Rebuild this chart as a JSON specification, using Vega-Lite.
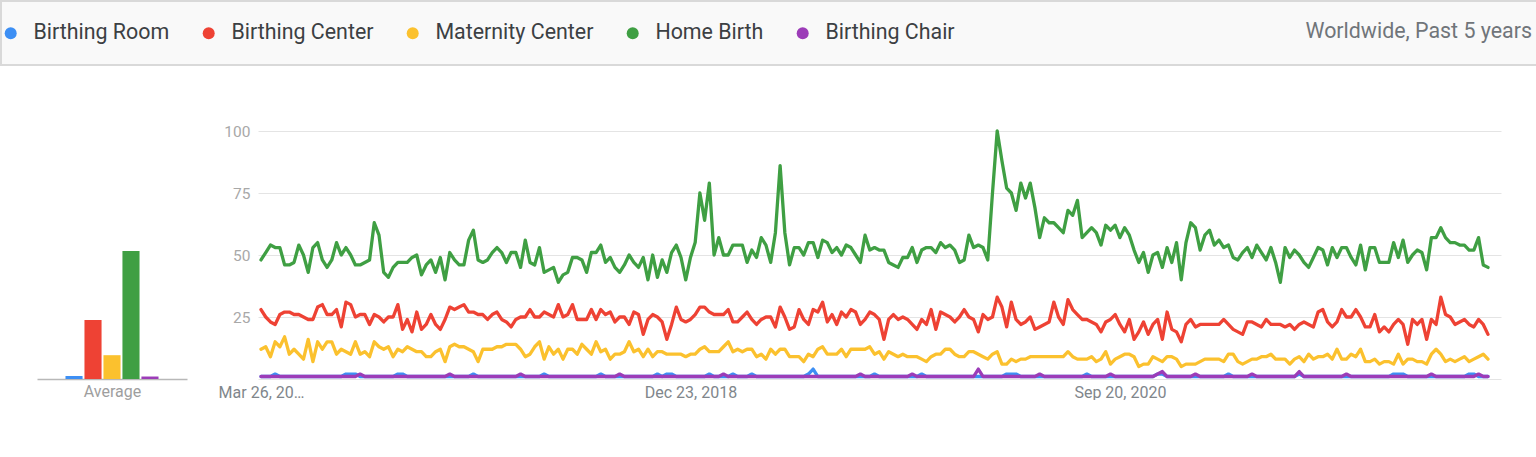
{
  "$schema": "https://vega.github.io/schema/vega-lite/v6.json",
  "padding": 0,
  "background": "white",
  "config": {
    "font": "Roboto",
    "view": {"stroke": null},
    "legend": {
      "orient": "none", "legendX": -37, "legendY": 21, "direction": "horizontal",
      "labelFont": "Roboto", "labelFontSize": 21.4, "labelColor": "#3c4043",
      "labelOffset": 12, "columnPadding": 28, "symbolType": "circle", "symbolSize": 144,
      "padding": 0, "labelLimit": 400
    }
  },
  "datasets": {
    "avg": [
      {"term": "Birthing Room", "avg": 1.2},
      {"term": "Birthing Center", "avg": 23.8},
      {"term": "Maternity Center", "avg": 9.6},
      {"term": "Home Birth", "avg": 51.6},
      {"term": "Birthing Chair", "avg": 1.0}
    ],
    "weeks": [
      {"d":"2017-03-26","r":1,"c":28,"m":12,"h":48,"p":1},
      {"d":"2017-04-02","r":1,"c":25,"m":13,"h":51,"p":1},
      {"d":"2017-04-09","r":1,"c":23,"m":9,"h":54,"p":1},
      {"d":"2017-04-16","r":2,"c":22,"m":15,"h":53,"p":1},
      {"d":"2017-04-23","r":1,"c":26,"m":13,"h":53,"p":1},
      {"d":"2017-04-30","r":1,"c":27,"m":17,"h":46,"p":1},
      {"d":"2017-05-07","r":1,"c":27,"m":10,"h":46,"p":1},
      {"d":"2017-05-14","r":1,"c":26,"m":12,"h":47,"p":1},
      {"d":"2017-05-21","r":1,"c":26,"m":10,"h":54,"p":1},
      {"d":"2017-05-28","r":1,"c":25,"m":8,"h":50,"p":1},
      {"d":"2017-06-04","r":1,"c":24,"m":16,"h":43,"p":1},
      {"d":"2017-06-11","r":1,"c":24,"m":7,"h":53,"p":1},
      {"d":"2017-06-18","r":1,"c":29,"m":15,"h":55,"p":1},
      {"d":"2017-06-25","r":1,"c":30,"m":12,"h":48,"p":1},
      {"d":"2017-07-02","r":1,"c":26,"m":15,"h":45,"p":1},
      {"d":"2017-07-09","r":1,"c":26,"m":15,"h":48,"p":1},
      {"d":"2017-07-16","r":1,"c":28,"m":10,"h":55,"p":1},
      {"d":"2017-07-23","r":1,"c":21,"m":12,"h":50,"p":1},
      {"d":"2017-07-30","r":2,"c":31,"m":11,"h":53,"p":1},
      {"d":"2017-08-06","r":2,"c":30,"m":10,"h":50,"p":1},
      {"d":"2017-08-13","r":2,"c":25,"m":15,"h":46,"p":1},
      {"d":"2017-08-20","r":1,"c":26,"m":10,"h":46,"p":2},
      {"d":"2017-08-27","r":1,"c":26,"m":11,"h":47,"p":1},
      {"d":"2017-09-03","r":1,"c":22,"m":9,"h":48,"p":1},
      {"d":"2017-09-10","r":1,"c":26,"m":15,"h":63,"p":1},
      {"d":"2017-09-17","r":1,"c":25,"m":13,"h":58,"p":1},
      {"d":"2017-09-24","r":1,"c":23,"m":12,"h":43,"p":1},
      {"d":"2017-10-01","r":1,"c":25,"m":13,"h":41,"p":1},
      {"d":"2017-10-08","r":1,"c":25,"m":9,"h":45,"p":1},
      {"d":"2017-10-15","r":2,"c":30,"m":12,"h":47,"p":1},
      {"d":"2017-10-22","r":2,"c":20,"m":11,"h":47,"p":1},
      {"d":"2017-10-29","r":1,"c":24,"m":13,"h":47,"p":1},
      {"d":"2017-11-05","r":1,"c":19,"m":12,"h":49,"p":1},
      {"d":"2017-11-12","r":1,"c":27,"m":11,"h":50,"p":1},
      {"d":"2017-11-19","r":1,"c":20,"m":11,"h":42,"p":1},
      {"d":"2017-11-26","r":1,"c":22,"m":9,"h":46,"p":1},
      {"d":"2017-12-03","r":1,"c":26,"m":9,"h":48,"p":1},
      {"d":"2017-12-10","r":1,"c":22,"m":11,"h":43,"p":1},
      {"d":"2017-12-17","r":1,"c":20,"m":12,"h":49,"p":1},
      {"d":"2017-12-24","r":1,"c":24,"m":7,"h":40,"p":1},
      {"d":"2017-12-31","r":1,"c":29,"m":13,"h":51,"p":2},
      {"d":"2018-01-07","r":1,"c":28,"m":14,"h":48,"p":1},
      {"d":"2018-01-14","r":1,"c":29,"m":13,"h":46,"p":1},
      {"d":"2018-01-21","r":1,"c":30,"m":13,"h":46,"p":1},
      {"d":"2018-01-28","r":1,"c":27,"m":12,"h":56,"p":1},
      {"d":"2018-02-04","r":2,"c":27,"m":11,"h":60,"p":1},
      {"d":"2018-02-11","r":1,"c":26,"m":7,"h":48,"p":1},
      {"d":"2018-02-18","r":1,"c":26,"m":12,"h":47,"p":1},
      {"d":"2018-02-25","r":1,"c":24,"m":12,"h":48,"p":1},
      {"d":"2018-03-04","r":1,"c":26,"m":12,"h":51,"p":1},
      {"d":"2018-03-11","r":1,"c":27,"m":13,"h":53,"p":1},
      {"d":"2018-03-18","r":1,"c":24,"m":13,"h":51,"p":1},
      {"d":"2018-03-25","r":1,"c":23,"m":14,"h":47,"p":1},
      {"d":"2018-04-01","r":1,"c":21,"m":14,"h":51,"p":1},
      {"d":"2018-04-08","r":1,"c":24,"m":14,"h":51,"p":1},
      {"d":"2018-04-15","r":1,"c":25,"m":12,"h":45,"p":2},
      {"d":"2018-04-22","r":1,"c":25,"m":9,"h":56,"p":1},
      {"d":"2018-04-29","r":1,"c":28,"m":10,"h":47,"p":1},
      {"d":"2018-05-06","r":1,"c":25,"m":13,"h":46,"p":1},
      {"d":"2018-05-13","r":1,"c":25,"m":15,"h":53,"p":1},
      {"d":"2018-05-20","r":2,"c":27,"m":8,"h":43,"p":1},
      {"d":"2018-05-27","r":1,"c":26,"m":13,"h":44,"p":1},
      {"d":"2018-06-03","r":1,"c":25,"m":10,"h":45,"p":1},
      {"d":"2018-06-10","r":1,"c":30,"m":12,"h":39,"p":1},
      {"d":"2018-06-17","r":1,"c":25,"m":8,"h":42,"p":1},
      {"d":"2018-06-24","r":1,"c":26,"m":12,"h":43,"p":1},
      {"d":"2018-07-01","r":1,"c":30,"m":12,"h":49,"p":1},
      {"d":"2018-07-08","r":1,"c":24,"m":10,"h":49,"p":1},
      {"d":"2018-07-15","r":1,"c":24,"m":14,"h":48,"p":1},
      {"d":"2018-07-22","r":1,"c":24,"m":12,"h":43,"p":1},
      {"d":"2018-07-29","r":1,"c":28,"m":10,"h":51,"p":1},
      {"d":"2018-08-05","r":1,"c":24,"m":15,"h":51,"p":1},
      {"d":"2018-08-12","r":2,"c":28,"m":11,"h":54,"p":1},
      {"d":"2018-08-19","r":1,"c":26,"m":12,"h":47,"p":1},
      {"d":"2018-08-26","r":1,"c":27,"m":8,"h":49,"p":1},
      {"d":"2018-09-02","r":1,"c":23,"m":10,"h":45,"p":1},
      {"d":"2018-09-09","r":1,"c":25,"m":10,"h":43,"p":2},
      {"d":"2018-09-16","r":1,"c":25,"m":11,"h":46,"p":1},
      {"d":"2018-09-23","r":1,"c":22,"m":15,"h":50,"p":1},
      {"d":"2018-09-30","r":1,"c":27,"m":11,"h":47,"p":1},
      {"d":"2018-10-07","r":1,"c":26,"m":12,"h":45,"p":1},
      {"d":"2018-10-14","r":1,"c":18,"m":9,"h":49,"p":1},
      {"d":"2018-10-21","r":1,"c":24,"m":12,"h":40,"p":1},
      {"d":"2018-10-28","r":1,"c":26,"m":9,"h":50,"p":1},
      {"d":"2018-11-04","r":2,"c":25,"m":11,"h":41,"p":1},
      {"d":"2018-11-11","r":1,"c":23,"m":11,"h":48,"p":1},
      {"d":"2018-11-18","r":2,"c":16,"m":10,"h":43,"p":1},
      {"d":"2018-11-25","r":2,"c":22,"m":10,"h":51,"p":1},
      {"d":"2018-12-02","r":1,"c":29,"m":10,"h":54,"p":1},
      {"d":"2018-12-09","r":1,"c":24,"m":10,"h":49,"p":1},
      {"d":"2018-12-16","r":1,"c":23,"m":9,"h":40,"p":1},
      {"d":"2018-12-23","r":1,"c":24,"m":10,"h":49,"p":1},
      {"d":"2018-12-30","r":1,"c":26,"m":10,"h":55,"p":1},
      {"d":"2019-01-06","r":1,"c":29,"m":12,"h":75,"p":1},
      {"d":"2019-01-13","r":1,"c":29,"m":13,"h":64,"p":1},
      {"d":"2019-01-20","r":2,"c":27,"m":11,"h":79,"p":1},
      {"d":"2019-01-27","r":1,"c":26,"m":11,"h":50,"p":1},
      {"d":"2019-02-03","r":1,"c":26,"m":11,"h":57,"p":1},
      {"d":"2019-02-10","r":1,"c":26,"m":13,"h":50,"p":2},
      {"d":"2019-02-17","r":1,"c":28,"m":15,"h":50,"p":1},
      {"d":"2019-02-24","r":2,"c":23,"m":11,"h":54,"p":1},
      {"d":"2019-03-03","r":1,"c":23,"m":12,"h":54,"p":1},
      {"d":"2019-03-10","r":1,"c":25,"m":11,"h":54,"p":1},
      {"d":"2019-03-17","r":1,"c":27,"m":12,"h":47,"p":1},
      {"d":"2019-03-24","r":2,"c":24,"m":12,"h":52,"p":1},
      {"d":"2019-03-31","r":1,"c":22,"m":9,"h":49,"p":1},
      {"d":"2019-04-07","r":1,"c":24,"m":10,"h":57,"p":1},
      {"d":"2019-04-14","r":1,"c":25,"m":8,"h":54,"p":1},
      {"d":"2019-04-21","r":1,"c":25,"m":12,"h":47,"p":1},
      {"d":"2019-04-28","r":1,"c":21,"m":10,"h":59,"p":1},
      {"d":"2019-05-05","r":1,"c":29,"m":12,"h":86,"p":1},
      {"d":"2019-05-12","r":1,"c":25,"m":12,"h":59,"p":1},
      {"d":"2019-05-19","r":1,"c":20,"m":9,"h":46,"p":1},
      {"d":"2019-05-26","r":1,"c":21,"m":9,"h":53,"p":1},
      {"d":"2019-06-02","r":1,"c":28,"m":9,"h":53,"p":1},
      {"d":"2019-06-09","r":1,"c":24,"m":7,"h":50,"p":1},
      {"d":"2019-06-16","r":2,"c":22,"m":10,"h":55,"p":1},
      {"d":"2019-06-23","r":4,"c":28,"m":9,"h":55,"p":1},
      {"d":"2019-06-30","r":1,"c":27,"m":12,"h":49,"p":1},
      {"d":"2019-07-07","r":1,"c":31,"m":13,"h":56,"p":1},
      {"d":"2019-07-14","r":1,"c":23,"m":10,"h":55,"p":1},
      {"d":"2019-07-21","r":1,"c":26,"m":10,"h":51,"p":1},
      {"d":"2019-07-28","r":1,"c":22,"m":10,"h":53,"p":1},
      {"d":"2019-08-04","r":1,"c":27,"m":12,"h":50,"p":1},
      {"d":"2019-08-11","r":1,"c":25,"m":9,"h":54,"p":1},
      {"d":"2019-08-18","r":1,"c":28,"m":12,"h":53,"p":1},
      {"d":"2019-08-25","r":1,"c":27,"m":12,"h":50,"p":1},
      {"d":"2019-09-01","r":1,"c":22,"m":12,"h":47,"p":2},
      {"d":"2019-09-08","r":1,"c":24,"m":12,"h":58,"p":1},
      {"d":"2019-09-15","r":1,"c":27,"m":13,"h":52,"p":1},
      {"d":"2019-09-22","r":2,"c":26,"m":10,"h":53,"p":1},
      {"d":"2019-09-29","r":1,"c":24,"m":11,"h":52,"p":1},
      {"d":"2019-10-06","r":1,"c":16,"m":8,"h":52,"p":1},
      {"d":"2019-10-13","r":1,"c":24,"m":11,"h":47,"p":1},
      {"d":"2019-10-20","r":1,"c":26,"m":10,"h":46,"p":1},
      {"d":"2019-10-27","r":1,"c":24,"m":9,"h":45,"p":1},
      {"d":"2019-11-03","r":1,"c":25,"m":10,"h":49,"p":1},
      {"d":"2019-11-10","r":1,"c":24,"m":9,"h":49,"p":1},
      {"d":"2019-11-17","r":1,"c":22,"m":9,"h":53,"p":2},
      {"d":"2019-11-24","r":1,"c":20,"m":9,"h":47,"p":1},
      {"d":"2019-12-01","r":2,"c":24,"m":8,"h":52,"p":1},
      {"d":"2019-12-08","r":1,"c":22,"m":7,"h":53,"p":1},
      {"d":"2019-12-15","r":1,"c":28,"m":9,"h":53,"p":1},
      {"d":"2019-12-22","r":1,"c":20,"m":10,"h":51,"p":1},
      {"d":"2019-12-29","r":1,"c":27,"m":10,"h":55,"p":1},
      {"d":"2020-01-05","r":1,"c":26,"m":12,"h":53,"p":1},
      {"d":"2020-01-12","r":1,"c":25,"m":12,"h":54,"p":1},
      {"d":"2020-01-19","r":1,"c":23,"m":10,"h":52,"p":1},
      {"d":"2020-01-26","r":1,"c":25,"m":9,"h":47,"p":1},
      {"d":"2020-02-02","r":1,"c":28,"m":9,"h":48,"p":1},
      {"d":"2020-02-09","r":1,"c":25,"m":11,"h":58,"p":1},
      {"d":"2020-02-16","r":1,"c":24,"m":11,"h":53,"p":1},
      {"d":"2020-02-23","r":1,"c":19,"m":10,"h":54,"p":4},
      {"d":"2020-03-01","r":1,"c":26,"m":9,"h":53,"p":1},
      {"d":"2020-03-08","r":1,"c":24,"m":8,"h":48,"p":1},
      {"d":"2020-03-15","r":1,"c":25,"m":10,"h":75,"p":1},
      {"d":"2020-03-22","r":1,"c":33,"m":11,"h":100,"p":1},
      {"d":"2020-03-29","r":1,"c":29,"m":6,"h":88,"p":1},
      {"d":"2020-04-05","r":2,"c":21,"m":6,"h":77,"p":1},
      {"d":"2020-04-12","r":2,"c":31,"m":8,"h":75,"p":1},
      {"d":"2020-04-19","r":2,"c":24,"m":7,"h":68,"p":1},
      {"d":"2020-04-26","r":1,"c":22,"m":8,"h":79,"p":1},
      {"d":"2020-05-03","r":1,"c":23,"m":8,"h":73,"p":1},
      {"d":"2020-05-10","r":1,"c":25,"m":9,"h":79,"p":1},
      {"d":"2020-05-17","r":1,"c":20,"m":9,"h":69,"p":1},
      {"d":"2020-05-24","r":1,"c":21,"m":9,"h":57,"p":2},
      {"d":"2020-05-31","r":1,"c":22,"m":9,"h":65,"p":1},
      {"d":"2020-06-07","r":1,"c":23,"m":9,"h":63,"p":1},
      {"d":"2020-06-14","r":1,"c":31,"m":9,"h":63,"p":1},
      {"d":"2020-06-21","r":1,"c":25,"m":9,"h":61,"p":1},
      {"d":"2020-06-28","r":1,"c":22,"m":9,"h":59,"p":1},
      {"d":"2020-07-05","r":1,"c":32,"m":11,"h":68,"p":1},
      {"d":"2020-07-12","r":1,"c":28,"m":9,"h":66,"p":1},
      {"d":"2020-07-19","r":1,"c":26,"m":8,"h":72,"p":1},
      {"d":"2020-07-26","r":1,"c":24,"m":8,"h":57,"p":1},
      {"d":"2020-08-02","r":2,"c":24,"m":8,"h":59,"p":1},
      {"d":"2020-08-09","r":1,"c":23,"m":9,"h":61,"p":1},
      {"d":"2020-08-16","r":1,"c":22,"m":7,"h":59,"p":1},
      {"d":"2020-08-23","r":1,"c":19,"m":8,"h":54,"p":1},
      {"d":"2020-08-30","r":1,"c":23,"m":11,"h":62,"p":1},
      {"d":"2020-09-06","r":1,"c":24,"m":6,"h":60,"p":2},
      {"d":"2020-09-13","r":1,"c":26,"m":8,"h":62,"p":1},
      {"d":"2020-09-20","r":1,"c":22,"m":9,"h":57,"p":1},
      {"d":"2020-09-27","r":1,"c":19,"m":10,"h":61,"p":1},
      {"d":"2020-10-04","r":1,"c":24,"m":10,"h":58,"p":1},
      {"d":"2020-10-11","r":1,"c":16,"m":9,"h":52,"p":1},
      {"d":"2020-10-18","r":1,"c":19,"m":5,"h":47,"p":1},
      {"d":"2020-10-25","r":1,"c":23,"m":6,"h":51,"p":1},
      {"d":"2020-11-01","r":1,"c":18,"m":6,"h":43,"p":1},
      {"d":"2020-11-08","r":1,"c":22,"m":9,"h":50,"p":1},
      {"d":"2020-11-15","r":2,"c":24,"m":8,"h":51,"p":2},
      {"d":"2020-11-22","r":2,"c":16,"m":7,"h":45,"p":3},
      {"d":"2020-11-29","r":1,"c":27,"m":9,"h":53,"p":1},
      {"d":"2020-12-06","r":1,"c":20,"m":9,"h":47,"p":1},
      {"d":"2020-12-13","r":1,"c":19,"m":8,"h":55,"p":1},
      {"d":"2020-12-20","r":1,"c":15,"m":5,"h":40,"p":1},
      {"d":"2020-12-27","r":1,"c":22,"m":6,"h":55,"p":1},
      {"d":"2021-01-03","r":1,"c":24,"m":6,"h":63,"p":1},
      {"d":"2021-01-10","r":1,"c":21,"m":6,"h":61,"p":2},
      {"d":"2021-01-17","r":1,"c":22,"m":7,"h":52,"p":1},
      {"d":"2021-01-24","r":1,"c":22,"m":8,"h":58,"p":1},
      {"d":"2021-01-31","r":1,"c":22,"m":8,"h":60,"p":1},
      {"d":"2021-02-07","r":1,"c":22,"m":8,"h":54,"p":1},
      {"d":"2021-02-14","r":1,"c":22,"m":8,"h":56,"p":1},
      {"d":"2021-02-21","r":1,"c":24,"m":7,"h":53,"p":1},
      {"d":"2021-02-28","r":2,"c":22,"m":10,"h":54,"p":1},
      {"d":"2021-03-07","r":1,"c":20,"m":10,"h":49,"p":1},
      {"d":"2021-03-14","r":1,"c":19,"m":7,"h":48,"p":1},
      {"d":"2021-03-21","r":1,"c":18,"m":6,"h":51,"p":1},
      {"d":"2021-03-28","r":1,"c":23,"m":7,"h":53,"p":1},
      {"d":"2021-04-04","r":1,"c":23,"m":8,"h":49,"p":2},
      {"d":"2021-04-11","r":1,"c":22,"m":8,"h":54,"p":1},
      {"d":"2021-04-18","r":1,"c":21,"m":9,"h":51,"p":1},
      {"d":"2021-04-25","r":1,"c":24,"m":9,"h":48,"p":1},
      {"d":"2021-05-02","r":1,"c":22,"m":10,"h":53,"p":1},
      {"d":"2021-05-09","r":1,"c":22,"m":8,"h":47,"p":1},
      {"d":"2021-05-16","r":1,"c":22,"m":8,"h":39,"p":1},
      {"d":"2021-05-23","r":1,"c":21,"m":8,"h":53,"p":1},
      {"d":"2021-05-30","r":1,"c":22,"m":6,"h":49,"p":1},
      {"d":"2021-06-06","r":1,"c":20,"m":8,"h":52,"p":1},
      {"d":"2021-06-13","r":2,"c":22,"m":9,"h":50,"p":3},
      {"d":"2021-06-20","r":1,"c":23,"m":7,"h":47,"p":1},
      {"d":"2021-06-27","r":1,"c":22,"m":10,"h":45,"p":1},
      {"d":"2021-07-04","r":1,"c":21,"m":8,"h":49,"p":1},
      {"d":"2021-07-11","r":1,"c":27,"m":9,"h":53,"p":1},
      {"d":"2021-07-18","r":1,"c":28,"m":9,"h":52,"p":1},
      {"d":"2021-07-25","r":1,"c":23,"m":10,"h":46,"p":1},
      {"d":"2021-08-01","r":1,"c":21,"m":8,"h":53,"p":1},
      {"d":"2021-08-08","r":1,"c":23,"m":12,"h":49,"p":1},
      {"d":"2021-08-15","r":1,"c":28,"m":8,"h":53,"p":1},
      {"d":"2021-08-22","r":1,"c":25,"m":8,"h":53,"p":2},
      {"d":"2021-08-29","r":1,"c":25,"m":10,"h":49,"p":1},
      {"d":"2021-09-05","r":1,"c":28,"m":9,"h":46,"p":1},
      {"d":"2021-09-12","r":1,"c":25,"m":12,"h":54,"p":1},
      {"d":"2021-09-19","r":1,"c":21,"m":7,"h":44,"p":1},
      {"d":"2021-09-26","r":1,"c":21,"m":7,"h":53,"p":1},
      {"d":"2021-10-03","r":1,"c":26,"m":8,"h":53,"p":1},
      {"d":"2021-10-10","r":1,"c":19,"m":6,"h":47,"p":1},
      {"d":"2021-10-17","r":1,"c":21,"m":7,"h":47,"p":1},
      {"d":"2021-10-24","r":1,"c":19,"m":7,"h":47,"p":1},
      {"d":"2021-10-31","r":2,"c":22,"m":6,"h":55,"p":1},
      {"d":"2021-11-07","r":2,"c":24,"m":10,"h":49,"p":1},
      {"d":"2021-11-14","r":2,"c":22,"m":6,"h":56,"p":1},
      {"d":"2021-11-21","r":1,"c":14,"m":8,"h":47,"p":1},
      {"d":"2021-11-28","r":1,"c":24,"m":8,"h":50,"p":1},
      {"d":"2021-12-05","r":1,"c":22,"m":7,"h":52,"p":1},
      {"d":"2021-12-12","r":1,"c":24,"m":7,"h":51,"p":1},
      {"d":"2021-12-19","r":1,"c":16,"m":6,"h":44,"p":1},
      {"d":"2021-12-26","r":1,"c":24,"m":10,"h":57,"p":2},
      {"d":"2022-01-02","r":1,"c":22,"m":12,"h":57,"p":1},
      {"d":"2022-01-09","r":1,"c":33,"m":10,"h":61,"p":1},
      {"d":"2022-01-16","r":1,"c":26,"m":7,"h":57,"p":1},
      {"d":"2022-01-23","r":1,"c":25,"m":8,"h":55,"p":1},
      {"d":"2022-01-30","r":1,"c":22,"m":7,"h":55,"p":1},
      {"d":"2022-02-06","r":1,"c":23,"m":8,"h":54,"p":1},
      {"d":"2022-02-13","r":1,"c":24,"m":9,"h":54,"p":1},
      {"d":"2022-02-20","r":2,"c":22,"m":7,"h":52,"p":1},
      {"d":"2022-02-27","r":2,"c":21,"m":8,"h":52,"p":1},
      {"d":"2022-03-06","r":1,"c":24,"m":9,"h":57,"p":2},
      {"d":"2022-03-13","r":1,"c":22,"m":10,"h":46,"p":1},
      {"d":"2022-03-20","r":1,"c":18,"m":8,"h":45,"p":1}
    ]
  },
  "bounds": "flush",
  "spacing": 66,
  "vconcat": [
    {
      "width": 1500,
      "height": 64,
      "data": {"values": [{"t": "Worldwide, Past 5 years"}]},
      "layer": [
        {
          "mark": {"type": "rect", "fill": "#f9f9f9", "stroke": "#d9d9d9", "strokeWidth": 2},
          "encoding": {
            "x": {"datum": 0, "type": "quantitative", "scale": {"domain": [0.0234375, 1], "zero": false, "nice": false}, "axis": null},
            "x2": {"datum": 1},
            "y": {"datum": 0, "type": "quantitative", "scale": {"domain": [0, 1], "zero": false, "nice": false}, "axis": null},
            "y2": {"datum": 1}
          }
        },
        {
          "mark": {"type": "text", "align": "right", "baseline": "middle", "dx": -5, "font": "Roboto", "fontSize": 21.4, "color": "#70757a"},
          "encoding": {
            "x": {"datum": 1, "type": "quantitative"},
            "y": {"datum": 0.52, "type": "quantitative"},
            "text": {"field": "t", "type": "nominal"}
          }
        }
      ]
    },
    {
      "bounds": "full",
      "spacing": 27,
      "hconcat": [
        {
          "width": 150,
          "height": 248,
          "data": {"name": "avg"},
          "mark": {"type": "bar"},
          "encoding": {
            "x": {
              "field": "term", "type": "nominal",
              "scale": {"domain": ["_left", "Birthing Room", "Birthing Center", "Maternity Center", "Home Birth", "Birthing Chair", "_right"], "paddingInner": 0.1, "paddingOuter": 0.5},
              "axis": {"title": "Average", "labels": false, "ticks": false, "domain": true, "domainColor": "#b8b8b8", "domainWidth": 1.5, "titleFont": "Roboto", "titleFontSize": 16, "titleFontWeight": "normal", "titleColor": "#9e9e9e", "titlePadding": 4}
            },
            "y": {"field": "avg", "type": "quantitative", "scale": {"domain": [0, 100]}, "axis": {"title": null, "labels": false, "ticks": false, "domain": false, "grid": false, "minExtent": 36, "maxExtent": 36}},
            "color": {
              "field": "term", "type": "nominal",
              "scale": {"domain": ["Birthing Room", "Birthing Center", "Maternity Center", "Home Birth", "Birthing Chair"], "range": ["#3d8ff4", "#ee4234", "#fbc12e", "#3f9f43", "#9c3cb8"]},
              "legend": {"title": null, "encode": {"symbols": {"update": {"shape": {"value": "circle"}, "fill": {"scale": "color", "field": "value"}, "stroke": {"value": "transparent"}, "strokeWidth": {"value": 0}, "opacity": {"value": 1}}}}}
            }
          }
        },
        {
          "width": 1243,
          "height": 248,
          "data": {"name": "weeks"},
          "encoding": {
            "x": {
              "field": "d", "type": "temporal",
              "scale": {"type": "utc", "domain": [{"year": 2017, "month": 3, "date": 21, "hours": 13, "utc": true}, {"year": 2022, "month": 4, "date": 8, "hours": 7, "utc": true}]},
              "axis": {
                "title": null,
                "values": [{"year": 2017, "month": 3, "date": 26, "utc": true}, {"year": 2018, "month": 12, "date": 23, "utc": true}, {"year": 2020, "month": 9, "date": 20, "utc": true}],
                "labelExpr": "utcyear(datum.value) == 2017 ? 'Mar 26, 20…' : utcFormat(datum.value, '%b %-d, %Y')",
                "grid": false, "ticks": false, "domain": false, "labelPadding": 5,
                "labelFont": "Roboto", "labelFontSize": 16, "labelColor": "#80868b",
                "labelOverlap": false, "labelFlush": false, "labelBound": false
              }
            }
          },
          "layer": [
            {
              "mark": {"type": "line", "strokeWidth": 3.3, "strokeJoin": "round", "strokeCap": "round"},
              "encoding": {
                "y": {"field": "r", "type": "quantitative", "scale": {"domain": [0, 100]}, "axis": {"title": null, "values": [0, 25, 50, 75, 100], "labelExpr": "datum.value == 0 ? '' : datum.label", "domain": false, "ticks": false, "grid": true, "gridColor": "#e4e4e4", "labelPadding": 8, "labelFont": "Roboto", "labelFontSize": 15.5, "labelColor": "#a8a8a8", "minExtent": 44, "maxExtent": 44}},
                "color": {"datum": "Birthing Room", "type": "nominal", "scale": {"domain": ["Birthing Room", "Birthing Center", "Maternity Center", "Home Birth", "Birthing Chair"], "range": ["#3d8ff4", "#ee4234", "#fbc12e", "#3f9f43", "#9c3cb8"]}, "legend": {"title": null}}
              }
            },
            {
              "mark": {"type": "line", "strokeWidth": 3.3, "strokeJoin": "round", "strokeCap": "round"},
              "encoding": {
                "y": {"field": "c", "type": "quantitative", "scale": {"domain": [0, 100]}, "axis": {"title": null, "values": [0, 25, 50, 75, 100], "labelExpr": "datum.value == 0 ? '' : datum.label", "domain": false, "ticks": false, "grid": true, "gridColor": "#e4e4e4", "labelPadding": 8, "labelFont": "Roboto", "labelFontSize": 15.5, "labelColor": "#a8a8a8", "minExtent": 44, "maxExtent": 44}},
                "color": {"datum": "Birthing Center", "type": "nominal", "scale": {"domain": ["Birthing Room", "Birthing Center", "Maternity Center", "Home Birth", "Birthing Chair"], "range": ["#3d8ff4", "#ee4234", "#fbc12e", "#3f9f43", "#9c3cb8"]}, "legend": {"title": null}}
              }
            },
            {
              "mark": {"type": "line", "strokeWidth": 3.3, "strokeJoin": "round", "strokeCap": "round"},
              "encoding": {
                "y": {"field": "m", "type": "quantitative", "scale": {"domain": [0, 100]}, "axis": {"title": null, "values": [0, 25, 50, 75, 100], "labelExpr": "datum.value == 0 ? '' : datum.label", "domain": false, "ticks": false, "grid": true, "gridColor": "#e4e4e4", "labelPadding": 8, "labelFont": "Roboto", "labelFontSize": 15.5, "labelColor": "#a8a8a8", "minExtent": 44, "maxExtent": 44}},
                "color": {"datum": "Maternity Center", "type": "nominal", "scale": {"domain": ["Birthing Room", "Birthing Center", "Maternity Center", "Home Birth", "Birthing Chair"], "range": ["#3d8ff4", "#ee4234", "#fbc12e", "#3f9f43", "#9c3cb8"]}, "legend": {"title": null}}
              }
            },
            {
              "mark": {"type": "line", "strokeWidth": 3.3, "strokeJoin": "round", "strokeCap": "round"},
              "encoding": {
                "y": {"field": "h", "type": "quantitative", "scale": {"domain": [0, 100]}, "axis": {"title": null, "values": [0, 25, 50, 75, 100], "labelExpr": "datum.value == 0 ? '' : datum.label", "domain": false, "ticks": false, "grid": true, "gridColor": "#e4e4e4", "labelPadding": 8, "labelFont": "Roboto", "labelFontSize": 15.5, "labelColor": "#a8a8a8", "minExtent": 44, "maxExtent": 44}},
                "color": {"datum": "Home Birth", "type": "nominal", "scale": {"domain": ["Birthing Room", "Birthing Center", "Maternity Center", "Home Birth", "Birthing Chair"], "range": ["#3d8ff4", "#ee4234", "#fbc12e", "#3f9f43", "#9c3cb8"]}, "legend": {"title": null}}
              }
            },
            {
              "mark": {"type": "line", "strokeWidth": 3.3, "strokeJoin": "round", "strokeCap": "round"},
              "encoding": {
                "y": {"field": "p", "type": "quantitative", "scale": {"domain": [0, 100]}, "axis": {"title": null, "values": [0, 25, 50, 75, 100], "labelExpr": "datum.value == 0 ? '' : datum.label", "domain": false, "ticks": false, "grid": true, "gridColor": "#e4e4e4", "labelPadding": 8, "labelFont": "Roboto", "labelFontSize": 15.5, "labelColor": "#a8a8a8", "minExtent": 44, "maxExtent": 44}},
                "color": {"datum": "Birthing Chair", "type": "nominal", "scale": {"domain": ["Birthing Room", "Birthing Center", "Maternity Center", "Home Birth", "Birthing Chair"], "range": ["#3d8ff4", "#ee4234", "#fbc12e", "#3f9f43", "#9c3cb8"]}, "legend": {"title": null}}
              }
            }
          ]
        }
      ]
    }
  ]
}
